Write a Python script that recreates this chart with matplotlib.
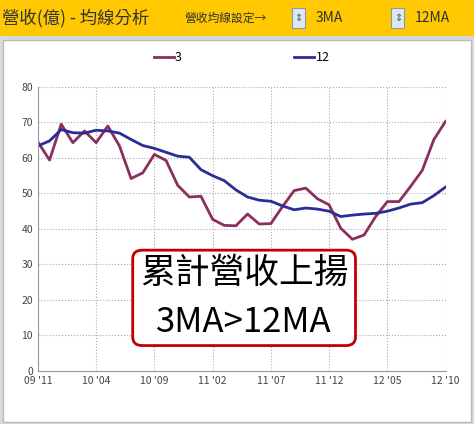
import matplotlib.pyplot as plt
from matplotlib.patches import Rectangle, FancyBboxPatch
import numpy as np

plt.rcParams['font.family'] = ['Noto Sans CJK TC', 'DejaVu Sans']

months = ["09 '11", "10 '04", "10 '09", "11 '02", "11 '07", "11 '12", "12 '05", "12 '10"]
ma3 = [64.5, 59.4, 69.5, 64.3, 67.6, 64.3, 69.0, 63.4, 54.2, 55.8, 61.0, 59.3,
       52.3, 49.0, 49.2, 42.7, 41.0, 40.9, 44.2, 41.4, 41.5, 46.3, 50.8, 51.5,
       48.5, 46.8, 40.2, 37.1, 38.3, 43.5, 47.7, 47.7, 52.0, 56.5, 65.2, 70.3]
ma12 = [63.4, 64.8, 68.0, 67.1, 67.0, 67.8, 67.6, 67.0, 65.2, 63.5, 62.7, 61.6,
        60.5, 60.2, 56.7, 55.0, 53.6, 51.0, 49.0, 48.1, 47.8, 46.5, 45.4, 45.9,
        45.6, 45.0, 43.5, 43.9, 44.2, 44.4, 45.0, 45.9, 47.0, 47.4, 49.4, 51.8]

fig = plt.figure(figsize=(4.74, 4.24), dpi=100)
fig.patch.set_facecolor('#d9d9d9')

# header bar and white chart panel (behind the axes)
fig.patches.append(Rectangle((0, 0.915), 1, 0.085, transform=fig.transFigure,
                             facecolor='#ffc800', edgecolor='none', zorder=-2))
fig.patches.append(Rectangle((0.006, 0.005), 0.988, 0.9, transform=fig.transFigure,
                             facecolor='white', edgecolor='#bbbbbb', zorder=-2))
fig.text(0.005, 0.957, '營收(億) - 均線分析', fontsize=12.5, color='#333333', va='center')
fig.text(0.39, 0.957, '營收均線設定→', fontsize=8.5, color='#333333', va='center')
for xs, lab in [(0.615, '3MA'), (0.825, '12MA')]:
    fig.patches.append(Rectangle((xs, 0.935), 0.028, 0.045, transform=fig.transFigure,
                                 facecolor='#dde8f5', edgecolor='#8899aa', lw=0.8))
    fig.text(xs + 0.014, 0.957, '⇕', fontsize=7, color='#445566', ha='center', va='center',
             family=['DejaVu Sans'])
    fig.text(xs + 0.05, 0.957, lab, fontsize=10, color='#333333', va='center')

ax = fig.add_axes([0.08, 0.125, 0.86, 0.67])
ax.set_facecolor('white')
x = np.arange(len(ma3))
ax.plot(x, ma3, color='#8b2f5f', lw=2, label='3')
ax.plot(x, ma12, color='#2b2b9a', lw=2, label='12')
ax.set_xlim(0, 35)
ax.set_ylim(0, 80)
ax.set_yticks(range(0, 81, 10))
ax.set_xticks(range(0, 36, 5))
ax.set_xticklabels(months)
ax.tick_params(labelsize=7.5, colors='#444444', length=0)
ax.grid(True, ls=':', color='#aaaaaa', lw=0.8)
for s in ['top', 'right']:
    ax.spines[s].set_visible(False)
for s in ['left', 'bottom']:
    ax.spines[s].set_color('#999999')
ax.legend(loc='lower center', bbox_to_anchor=(0.5, 1.04), ncol=2, frameon=False,
          fontsize=9, handlelength=1.6, handletextpad=0.1, columnspacing=9)

box = FancyBboxPatch((0.28, 0.185), 0.47, 0.225, transform=fig.transFigure,
                     boxstyle='round,pad=0,rounding_size=0.02', facecolor='white',
                     edgecolor='#c00000', lw=2, zorder=5)
fig.patches.append(box)
fig.text(0.515, 0.355, '累計營收上揚', fontsize=25, ha='center', va='center', zorder=6)
fig.text(0.515, 0.24, '3MA>12MA', fontsize=25, ha='center', va='center', zorder=6)

fig.savefig('out.png', dpi=100)
